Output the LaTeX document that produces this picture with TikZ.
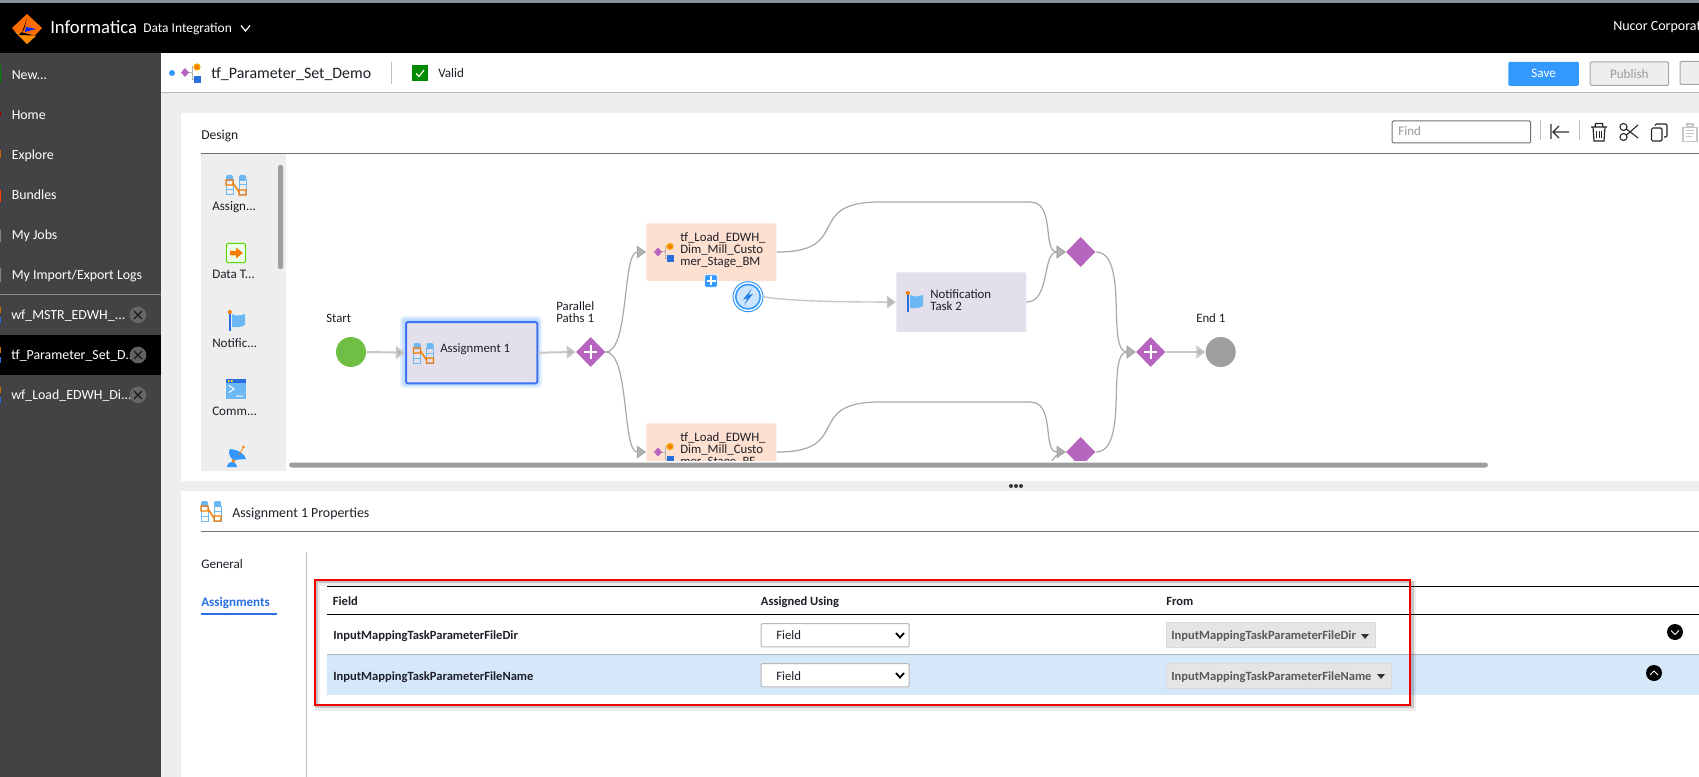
\documentclass[tikz,border=0pt]{standalone}
\usepackage{fontspec}
\setmainfont{Carlito}
\usetikzlibrary{arrows.meta,shapes.geometric,shapes.misc}
\definecolor{sidebar}{HTML}{434345}
\definecolor{panelbg}{HTML}{EEEEEE}
\definecolor{iconblue}{HTML}{6BB8F5}
\definecolor{deepblue}{HTML}{2A6FE0}
\definecolor{btnblue}{HTML}{3399FF}
\definecolor{iconorange}{HTML}{F57C00}
\definecolor{purple1}{HTML}{B565BD}
\definecolor{lilac}{HTML}{E3DFEB}
\definecolor{peach}{HTML}{FDE0CF}
\definecolor{linegray}{HTML}{C8C8C8}
\definecolor{curvegray}{HTML}{A8A8A8}
\definecolor{tipgray}{HTML}{B4B4B4}
\definecolor{rowblue}{HTML}{D4E8FA}
\definecolor{inktext}{HTML}{1E1E28}
\definecolor{redbox}{HTML}{F00000}
\definecolor{startgreen}{HTML}{70BE44}
\definecolor{selblue}{HTML}{3F74F2}
\definecolor{glowblue}{HTML}{7DB4FF}
\definecolor{topstrip}{HTML}{8A9098}
\tikzset{
  x=0.75pt,y=-0.75pt,
  px/.style={line width=#1*0.75pt},
  txt/.style={inner sep=0,anchor=base west,text=inktext},
  side/.style={txt,text=white,font=\fontsize{10.4}{10}\selectfont},
  cell/.style={txt,font=\fontsize{9.6}{10}\selectfont},
  task/.style={inner sep=0,anchor=north west,rounded corners=1pt,minimum width=97.5pt,draw=none},
  diag/.style={txt,font=\fontsize{9.6}{9}\selectfont,align=left,anchor=west},
  gate/.style={diamond,inner sep=0,minimum width=22pt,minimum height=22.5pt,fill=purple1},
  evt/.style={circle,inner sep=0,minimum size=22.5pt},
  flowline/.style={px=2,draw=linegray,-{Triangle[length=6.8pt,width=9.5pt,fill=tipgray]}},
  curveflow/.style={px=1.2,draw=curvegray,-{Triangle[length=6.8pt,width=9.5pt,fill=tipgray]}},
  curveplain/.style={px=1.2,draw=curvegray},
  sel/.style={inner sep=0,anchor=north west,draw=black!28,fill=white,rounded corners=1pt,px=1,minimum width=111pt,minimum height=17.6pt},
  fromsel/.style={inner sep=0,anchor=north west,draw=black!14,fill=black!10,px=1,minimum height=18.5pt},
  closec/.style={circle,inner sep=0,minimum size=12.5pt},
  assignicon/.pic={
    \fill[iconblue,rounded corners=1pt] (-10,-10) rectangle (-3,-4);
    \fill[iconblue,rounded corners=1pt] (3,-10) rectangle (10,-4);
    \draw[iconblue,px=1] (-10,-5) rectangle (-3,10) (3,-5) rectangle (10,10) (-10,5) -- (-3,5) (3,0) -- (10,0);
    \draw[iconorange,px=1.4] (-10,-5) rectangle (-3,0) (3,5) rectangle (10,10) (-3,-2) -- (3,7);
  },
  flagicon/.pic={
    \fill[deepblue] (-7,-8) rectangle (-5.4,10);
    \fill[iconorange] (-6.2,-9) circle (2);
    \fill[iconblue] (-4,-7) .. controls (-1,-5) and (3,-5) .. (9,-7) -- (9,4) .. controls (4,7) and (0,6) .. (-4,6) -- cycle;
  },
  flowicon/.pic={
    \draw[black!30,px=1] (-7,0) -- (1,0) (1,-6) -- (1,7) -- (3,7);
    \fill[purple1] (-10,0) -- (-6,-4.5) -- (-2,0) -- (-6,4.5) -- cycle;
    \fill[iconorange!70!yellow] (6,-5.5) circle (3.6);
    \fill[iconorange] (6,-5.5) circle (2);
    \fill[deepblue] (3,3.5) rectangle (10,10.5);
  },
  closex/.pic={\draw[px=1.2,black!90!white] (-4,-4) -- (4,4) (-4,4) -- (4,-4);},
}
\begin{document}
\begin{tikzpicture}
\useasboundingbox (0,0) rectangle (1699,777);
\clip (0,0) rectangle (1699,777);
% page frame
\fill[white] (0,0) rectangle (1699,777);
\fill[panelbg] (161,92) rectangle (1699,777);
\fill[topstrip] (0,0) rectangle (1699,3);
\fill[black] (0,3) rectangle (1699,53);
\fill[sidebar] (0,53) rectangle (161,777);
\fill[white] (161,53) rectangle (1699,92);
\draw[black!28,px=1.5] (161,92.5) -- (1699,92.5);
\fill[white] (181,113) rectangle (1699,481);
\fill[white] (181,491) rectangle (1699,777);
% logo and header
\fill[orange!85!red] (12,28) -- (27,14) -- (42,28) -- (27,44) -- cycle;
\fill[orange!90!yellow] (14,31) -- (20,34) -- (36,36) -- (27,44) -- cycle;
\fill[black] (27,18) -- (24,30) -- (19,35) -- (34,35.5) -- (22,32.5) -- cycle;
\fill[blue!85!cyan] (26,27) -- (36,29) -- (25,32) -- cycle;
\node[txt,text=white,font=\fontsize{14}{14}\selectfont] (brand) at (50,33.5) {Informatica};
\node[txt,text=white,font=\fontsize{10.1}{11}\selectfont] (product) at (143,33) {Data Integration};
\draw[white,px=1.2] (241,25.5) -- (245.5,31) -- (250,25.5);
\node[txt,text=white,font=\fontsize{10.5}{10}\selectfont] (org) at (1613,31) {Nucor Corporation};
% sidebar
\fill[green!50!black] (0,65) rectangle (1,82);
\fill[red!60!black] (0,112) rectangle (1,116);
\fill[orange!80!black] (0,150) rectangle (1,158);
\fill[orange!50!red] (0,190) rectangle (1,202);
\fill[black!50] (0,230) rectangle (1,242) (0,268) rectangle (1,282);
\node[side] (n1) at (11.5,79.5) {New...};
\node[side] (n2) at (11.5,119.5) {Home};
\node[side] (n3) at (11.5,159.5) {Explore};
\node[side] (n4) at (11.5,199.5) {Bundles};
\node[side] (n5) at (11.5,239.5) {My Jobs};
\node[side] (n6) at (11.5,280) {My Import/Export Logs};
\draw[black!45,px=1] (0,294.5) -- (161,294.5);
\fill[black] (0,335) rectangle (161,375);
\foreach \yy in {315,355,395}{\fill[orange!80!black] (0,\yy-8) rectangle (1,\yy-2); \fill[deepblue] (0,\yy+2) rectangle (1,\yy+8);}
\node[side] (t1) at (11,319.5) {wf\_MSTR\_EDWH\_...};
\node[side] (t2) at (11,359.5) {tf\_Parameter\_Set\_D...};
\node[side] (t3) at (11,399.5) {wf\_Load\_EDWH\_Di...};
\node[closec,fill=black!60] (c1) at (138,315) {};
\node[closec,fill=black!62] (c2) at (138,355) {};
\node[closec,fill=black!60] (c3) at (138,395) {};
\pic at (c1) {closex};
\pic at (c2) {closex};
\pic at (c3) {closex};
% toolbar
\fill[btnblue] (172,73) circle (3);
\pic at (191,72.5) {flowicon};
\node[txt,font=\fontsize{11.9}{13}\selectfont] (title) at (211,79) {tf\_Parameter\_Set\_Demo};
\draw[black!25,px=1] (391,62) -- (391,84);
\fill[green!55!black] (412,65) rectangle (428,81);
\draw[white,px=1.2] (416,73.5) -- (419,76.5) -- (424,70);
\node[txt,font=\fontsize{9.8}{10}\selectfont] (valid) at (438,78) {Valid};
\node[inner sep=0,anchor=north west,fill=btnblue,rounded corners=1pt,minimum width=53pt,minimum height=18pt,text=white,font=\fontsize{9.8}{10}\selectfont] (save) at (1508,61.5) {Save};
\node[inner sep=0,anchor=north west,fill=panelbg,draw=black!35,px=1,rounded corners=1pt,minimum width=59pt,minimum height=17.5pt,text=black!40,font=\fontsize{9.8}{10}\selectfont] (publish) at (1589.5,61.5) {Publish};
\draw[black!35,px=1,fill=panelbg,rounded corners=1pt] (1720,61.5) -- (1680,61.5) -- (1680,84.5) -- (1720,84.5);
% design panel
\node[txt,font=\fontsize{10.2}{10}\selectfont] (design) at (201,140) {Design};
\draw[black!55,px=1.2] (201,153.5) -- (1699,153.5);
\node[inner sep=0,anchor=north west,draw=black!55,px=1,fill=white,rounded corners=1pt,minimum width=104pt,minimum height=16.5pt] (findbox) at (1391.5,120.5) {};
\node[txt,text=black!40,font=\fontsize{9.8}{10}\selectfont] (findtxt) at (1398,136) {Find};
\draw[black!25,px=1] (1540.5,120) -- (1540.5,140) (1579.5,120) -- (1579.5,140);
\draw[black!80,px=1.2] (1551,124) -- (1551,139) (1569,132) -- (1553,132) (1559,126) -- (1553,132) -- (1559,138);
% trash, scissors, copy, paste
\draw[black!85,px=1.2] (1591,127) -- (1607,127) (1595,127) -- (1595.5,123.5) -- (1602.5,123.5) -- (1603,127);
\draw[black!85,px=1.2] (1593,127) -- (1594,141) -- (1604,141) -- (1605,127);
\draw[black!85,px=1] (1596.5,131) -- (1596.5,138) (1599,131) -- (1599,138) (1601.5,131) -- (1601.5,138);
\draw[black!85,px=1.1] (1623.5,127) circle (3.5) (1623.5,137) circle (3.5) (1626.5,129) -- (1638,138) (1626.5,135) -- (1638,125);
\draw[black!85,px=1.2,rounded corners=1pt] (1651.5,128) rectangle (1662,141);
\draw[black!85,px=1.2,rounded corners=1pt] (1655,125.5) -- (1655,124) -- (1667,124) -- (1667,137) -- (1664,137);
\draw[black!22,px=1.1] (1683,127.5) -- (1683,141.5) -- (1697,141.5) -- (1697,127.5) -- cycle (1687,127) rectangle (1693,124);
\draw[black!22,px=1] (1686,131) -- (1694,131) (1686,134) -- (1694,134) (1686,137) -- (1692,137);
% palette
\fill[panelbg] (201,154) rectangle (286,471);
\fill[black!38,rounded corners=1.5pt] (278,165) rectangle (283,269);
\pic at (236,185) {assignicon};
\node[txt,font=\fontsize{9.8}{10}\selectfont] (p1t) at (212,211) {Assign...};
\node[inner sep=0,draw=green!60!olive!70!lime,px=1,fill=green!8,rounded corners=1pt,minimum size=14.4pt] (dticon) at (236,253) {};
\fill[iconorange] (230,251) rectangle (236,255.5) (236,247.5) -- (243,253) -- (236,258.5) -- cycle;
\node[txt,font=\fontsize{9.8}{10}\selectfont] (p2t) at (212,279) {Data T...};
\pic at (236,321) {flagicon};
\node[txt,font=\fontsize{9.8}{10}\selectfont] (p3t) at (212,347) {Notific...};
\fill[iconblue] (226,379) rectangle (246,399);
\fill[deepblue] (226,379) rectangle (246,383);
\fill[yellow!70!orange] (228,380) rectangle (229.5,382) (231,380) rectangle (232.5,382);
\draw[white,px=1] (229,385.5) -- (234,389) -- (229,392.5) (236,396) -- (243,396);
\node[txt,font=\fontsize{9.8}{10}\selectfont] (p4t) at (212,415) {Comm...};
\fill[btnblue] (230,449) .. controls (240,450) and (245,455) .. (246,459) -- (233,460) .. controls (229,456) and (228,452) .. (230,449) -- cycle;
\fill[btnblue] (227,467) .. controls (228,460) and (236,460) .. (237,467) -- cycle;
\fill[iconorange] (233.5,461) circle (1.8) (243.5,447) circle (1.3);
\draw[iconorange,px=.7] (239,455) -- (243.5,447);
% workflow
\begin{scope}
\clip (286,154) rectangle (1699,460);
\fill[glowblue,opacity=.18,rounded corners=3pt] (400,316) rectangle (542,388);
\fill[glowblue,opacity=.3,rounded corners=2pt] (402,318) rectangle (540,386);
\node[evt,fill=startgreen] (start) at (351,352) {};
\node[inner sep=0,anchor=north west,fill=lilac,draw=selblue,px=2,rounded corners=1.5pt,minimum width=98.5pt,minimum height=46pt] (assign) at (405,321) {};
\node[gate] (par1) at (590.7,352) {};
\node[task,fill=peach,minimum height=43.2pt] (tf1) at (646,223) {};
\node[task,fill=lilac,minimum height=44.7pt] (notif) at (896,272) {};
\node[task,fill=peach,minimum height=43.2pt] (tf2) at (646,423) {};
\node[gate] (join1) at (1080.7,252) {};
\node[gate] (join2) at (1080.7,452) {};
\node[gate] (par2) at (1150.7,352) {};
\node[evt,fill=black!38] (finish) at (1220.7,352) {};
\node[evt,draw=btnblue,px=1,fill=white] (event) at (748,296.7) {};
\coordinate (t1a) at (880,202);
\coordinate (t1b) at (1030,202);
\coordinate (t2a) at (880,402);
\coordinate (t2b) at (1030,402);
\coordinate (lowin) at (1026,502);
% plus marks
\foreach \g in {par1,par2}{\draw[white,px=2] ([xshift=-5pt]\g.center) -- ([xshift=5pt]\g.center) ([yshift=-5pt]\g.center) -- ([yshift=5pt]\g.center);}
% event icon
\fill[btnblue!25] (event.center) circle (9.2pt);
\draw[btnblue,px=1.6] (event.center) circle (9.2pt);
\fill[deepblue!90!cyan] (752,288.5) -- (743,299.5) -- (747.5,298.5) -- (744,305) -- (753,294) -- (748.5,295) -- cycle;
% add button
\node[inner sep=0,fill=btnblue,draw=white,px=.8,rounded corners=1pt,minimum size=9.5pt] (addbtn) at (711,281) {};
\draw[white,px=1.4] (706.5,281) -- (715.5,281) (711,276.5) -- (711,285.5);
% connectors
\draw[flowline] (start.east) -- (assign.west);
\draw[flowline] (assign.east) -- (par1.west);
\draw[curveflow] (par1.east) .. controls +(24,0) and +(-24,0) .. (tf1.west);
\draw[curveflow] (par1.east) .. controls +(24,0) and +(-24,0) .. (tf2.west);
\draw[curveplain] (tf1.east) .. controls +(78,0) and +(-78,0) .. (t1a) -- (t1b);
\draw[curveflow] (t1b) .. controls +(26,0) and +(-24,0) .. (join1.west);
\draw[curveflow] (notif.east) .. controls +(24,0) and +(-24,0) .. (join1.west);
\draw[flowline,px=1.4] (event.east) .. controls +(26,5) and +(-40,0) .. (notif.west);
\draw[curveplain] (tf2.east) .. controls +(78,0) and +(-78,0) .. (t2a) -- (t2b);
\draw[curveflow] (t2b) .. controls +(26,0) and +(-24,0) .. (join2.west);
\draw[curveplain] (lowin) .. controls +(24,0) and +(-24,0) .. (join2.west);
\draw[curveflow] (join1.east) .. controls +(34,0) and +(-30,0) .. (par2.west);
\draw[curveflow] (join2.east) .. controls +(34,0) and +(-30,0) .. (par2.west);
\draw[flowline] (par2.east) -- (finish.west);
% labels and icons
\node[txt,font=\fontsize{9.6}{10}\selectfont] (slab) at (326,322) {Start};
\node[txt,font=\fontsize{9.6}{10}\selectfont] (elab) at (1196,322) {End 1};
\node[diag] (plab) at (556,311.7) {Parallel\\Paths 1};
\pic at (423.5,353) {assignicon};
\node[diag] (alab) at (440,349.5) {Assignment 1};
\pic at (664,252) {flowicon};
\node[diag] (tf1t) at (680,250) {tf\_Load\_EDWH\_\\Dim\_Mill\_Custo\\mer\_Stage\_BM};
\pic at (664,452) {flowicon};
\node[diag] (tf2t) at (680,450) {tf\_Load\_EDWH\_\\Dim\_Mill\_Custo\\mer\_Stage\_BF};
\pic at (914,302) {flagicon};
\node[diag] (ntxt) at (930,300) {Notification\\Task 2};
\end{scope}
% scrollbar and dots
\fill[black!38,rounded corners=2pt] (289,462.5) rectangle (1488,467.5);
\fill[black!80] (1011,486) circle (2) (1016,486) circle (2) (1021,486) circle (2);
% properties panel
\pic at (211,511) {assignicon};
\node[txt,font=\fontsize{10.4}{10}\selectfont] (proph) at (232,517) {Assignment 1 Properties};
\draw[black!55,px=1] (201,531.5) -- (1699,531.5);
\node[txt,font=\fontsize{9.8}{10}\selectfont] (gen) at (201,568.5) {General};
\node[txt,text=deepblue,font=\bfseries\fontsize{9.8}{10}\selectfont] (asg) at (201,606) {Assignments};
\draw[deepblue,px=2.2] (201,614) -- (277,614);
\draw[black!25,px=1] (306.5,552) -- (306.5,777);
% table
\fill[rowblue] (327,654) rectangle (1699,695);
\draw[black,px=1.2] (327,586.5) -- (1699,586.5) (327,614.5) -- (1699,614.5);
\draw[black!28,px=1] (327,654) -- (1699,654);
\node[cell,font=\bfseries\fontsize{9.4}{10}\selectfont] (h1) at (332.6,605) {Field};
\node[cell,font=\bfseries\fontsize{9.4}{10}\selectfont] (h2) at (760.7,605) {Assigned Using};
\node[cell,font=\bfseries\fontsize{9.4}{10}\selectfont] (h3) at (1166,605) {From};
\node[cell,font=\bfseries\fontsize{9.4}{10}\selectfont] (r1) at (333,639) {InputMappingTaskParameterFileDir};
\node[cell,font=\bfseries\fontsize{9.4}{10}\selectfont] (r2) at (333,680) {InputMappingTaskParameterFileName};
\node[sel] (s1) at (760.7,623) {};
\node[sel] (s2) at (760.7,663) {};
\node[cell] (s1t) at (776,639) {Field};
\node[cell] (s2t) at (776,680) {Field};
\draw[black,px=1.8] (896,633) -- (900,637.5) -- (904,633) (896,673) -- (900,677.5) -- (904,673);
\node[fromsel,minimum width=156.4pt] (f1) at (1166,622) {};
\node[fromsel,minimum width=168.4pt] (f2) at (1166,663) {};
\node[cell,text=black!65,font=\bfseries\fontsize{9.4}{10}\selectfont] (f1t) at (1171,639) {InputMappingTaskParameterFileDir};
\node[cell,text=black!65,font=\bfseries\fontsize{9.4}{10}\selectfont] (f2t) at (1171,680) {InputMappingTaskParameterFileName};
\fill[black!80] (1361,634) -- (1369,634) -- (1365,639) -- cycle (1377,674) -- (1385,674) -- (1381,679) -- cycle;
\node[circle,fill=black,inner sep=0,minimum size=12pt] (dn) at (1675,632) {};
\node[circle,fill=black,inner sep=0,minimum size=12pt] (up) at (1654,673) {};
\draw[white,px=1] (1671,630.5) -- (1675,634.5) -- (1679,630.5) (1650,675) -- (1654,671) -- (1658,675);
% red frame with shadow
\draw[black,opacity=.07,px=5] (317,583) rectangle (1413,708);
\draw[black,opacity=.16,px=2.5] (316.5,582) rectangle (1412.5,707);
\draw[redbox,px=2] (315,580) rectangle (1410,705);
\end{tikzpicture}
\end{document}
